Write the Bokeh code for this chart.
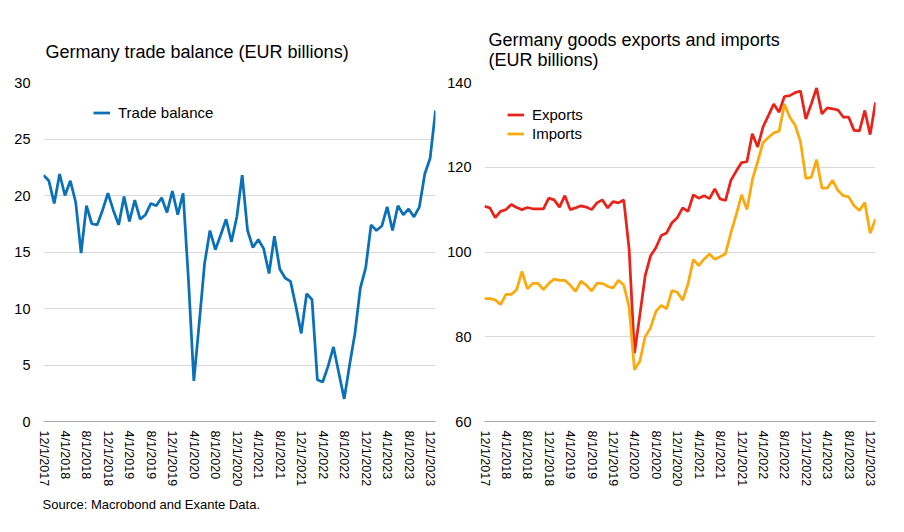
import math
from bokeh.plotting import figure
from bokeh.models import Range1d, FixedTicker, Title, Legend, LegendItem
from bokeh.layouts import row
from bokeh.embed import file_html
from bokeh.resources import INLINE

# ---------------- data ----------------
start_year, start_month = 2017, 12
n_months = 74  # 12/2017 .. 1/2024
months = []
for i in range(n_months):
    m = (start_month - 1 + i) % 12 + 1
    y = start_year + (start_month - 1 + i) // 12
    months.append(f"{m}/1/{y}")

trade_balance = [
    21.8, 21.3, 19.3, 21.9, 20.0, 21.3, 19.4, 14.9, 19.1, 17.5, 17.4, 18.7,
    20.2, 18.7, 17.4, 19.9, 17.7, 19.6, 17.9, 18.3, 19.3, 19.1, 19.8, 18.5,
    20.4, 18.3, 20.2, 12.5, 3.6, 8.7, 14.0, 16.9, 15.2, 16.5, 17.9, 15.9,
    18.1, 21.8, 16.9, 15.4, 16.1, 15.3, 13.1, 16.4, 13.5, 12.7, 12.4, 10.2,
    7.8, 11.3, 10.8, 3.7, 3.5, 4.9, 6.6, 4.3, 2.0, 5.0, 7.8, 11.8,
    13.6, 17.4, 16.9, 17.3, 19.0, 16.9, 19.1, 18.3, 18.8, 18.1, 19.0, 21.9,
    23.3, 27.5,
]

exports = [
    110.8, 110.4, 108.1, 109.6, 110.0, 111.2, 110.5, 110.0, 110.5, 110.2, 110.2, 110.2,
    112.7, 112.3, 110.6, 113.3, 110.0, 110.4, 110.9, 110.6, 110.0, 111.6, 112.3, 110.4,
    111.9, 111.6, 112.3, 100.7, 76.1, 85.1, 94.4, 99.1, 101.0, 103.9, 104.5, 106.9,
    108.1, 110.4, 109.6, 113.5, 112.7, 113.3, 112.6, 114.9, 112.5, 112.2, 116.9, 119.1,
    121.1, 121.3, 127.9, 124.8, 129.5, 132.2, 134.9, 133.0, 136.7, 136.9, 137.6, 138.0,
    131.4, 134.9, 138.7, 132.6, 134.0, 133.8, 133.5, 131.8, 131.8, 128.7, 128.6, 133.4,
    127.7, 135.3,
]

imports = [
    89.0, 89.0, 88.7, 87.6, 90.0, 90.0, 91.1, 95.4, 91.3, 92.6, 92.6, 91.1,
    92.6, 93.6, 93.3, 93.3, 92.2, 90.7, 93.1, 92.2, 90.8, 92.6, 92.6, 91.9,
    91.5, 93.3, 92.2, 87.0, 72.2, 74.2, 80.0, 82.1, 86.0, 87.4, 86.6, 90.9,
    90.5, 88.6, 92.5, 98.2, 96.8, 98.3, 99.5, 98.3, 98.9, 99.6, 104.5, 108.8,
    113.5, 110.0, 117.0, 121.3, 125.8, 127.0, 128.1, 128.5, 134.9, 131.8, 129.9, 126.0,
    117.4, 117.6, 121.8, 115.1, 115.1, 116.9, 114.5, 113.3, 113.0, 110.9, 109.8, 111.7,
    104.4, 107.8,
]

x_idx = list(range(n_months))
tick_positions = list(range(0, 73, 4))
tick_labels = [months[i] for i in tick_positions]

left_yticks = [0, 5, 10, 15, 20, 25, 30]
right_yticks = [60, 80, 100, 120, 140]

FONT = "Liberation Sans"
BLUE = "#0a70b8"
RED = "#e8231a"
ORANGE = "#fba90c"


def style(p, yticks):
    p.outline_line_color = None
    p.background_fill_color = "white"
    p.border_fill_color = "white"
    p.xgrid.grid_line_color = None
    p.ygrid.grid_line_color = "#d9d9d9"
    p.ygrid.grid_line_width = 1
    p.yaxis.ticker = FixedTicker(ticks=yticks)
    p.xaxis.ticker = FixedTicker(ticks=tick_positions)
    p.xaxis.major_label_overrides = {pos: lab for pos, lab in zip(tick_positions, tick_labels)}
    p.xaxis.major_label_orientation = -math.pi / 2
    for ax in (p.xaxis, p.yaxis):
        ax.major_tick_line_color = None
        ax.minor_tick_line_color = None
        ax.major_tick_out = 0
        ax.major_tick_in = 0
        ax.minor_tick_out = 0
        ax.minor_tick_in = 0
        ax.major_label_text_font = FONT
        ax.major_label_text_color = "black"
    p.yaxis.axis_line_color = None
    p.yaxis.major_label_text_font_size = "14.5px"
    p.yaxis.major_label_standoff = 13
    p.xaxis.axis_line_color = "#a6a6a6"
    p.xaxis.axis_line_width = 1
    p.xaxis.major_label_text_font_size = "12.5px"
    p.xaxis.major_label_standoff = 9
    p.title.text_font = FONT
    p.title.text_font_size = "18px"
    p.title.text_font_style = "normal"
    p.title.text_color = "black"
    p.title.align = "left"


def make_legend(items, loc):
    lg = Legend(items=items, location=loc)
    lg.padding = 0
    lg.margin = 0
    lg.border_line_color = None
    lg.background_fill_alpha = 0
    lg.glyph_width = 17
    lg.glyph_height = 17
    lg.label_height = 17
    lg.label_standoff = 8
    lg.spacing = 2
    lg.label_text_font = FONT
    lg.label_text_font_size = "15px"
    lg.label_text_color = "black"
    return lg


# ---------------- left chart ----------------
p1 = figure(width=444, height=532, output_backend="svg", toolbar_location=None,
            x_range=Range1d(0, 73), y_range=Range1d(0, 30),
            min_border_left=43, min_border_right=9, min_border_top=82, min_border_bottom=110,
            title="Germany trade balance (EUR billions)")
style(p1, left_yticks)
p1.title.offset = 2
p1.title.standoff = 41
r1 = p1.line(x_idx, trade_balance, line_color=BLUE, line_width=2.75)
p1.add_layout(make_legend([LegendItem(label="Trade balance", renderers=[r1])], (50, 300)))
src = Title(text="Source: Macrobond and Exante Data.", align="left", text_font=FONT,
            text_font_size="13px", text_font_style="normal", text_color="black",
            offset=-1, standoff=10)
p1.add_layout(src, "below")

# ---------------- right chart ----------------
p2 = figure(width=460, height=532, output_backend="svg", toolbar_location=None,
            x_range=Range1d(0, 73), y_range=Range1d(60, 140),
            min_border_left=39, min_border_right=29, min_border_top=78, min_border_bottom=111,
            title="Germany goods exports and imports\n(EUR billions)")
style(p2, right_yticks)
p2.title.offset = 4
p2.title.standoff = 25
r_exp = p2.line(x_idx, exports, line_color=RED, line_width=2.75)
r_imp = p2.line(x_idx, imports, line_color=ORANGE, line_width=2.75)
p2.add_layout(make_legend([LegendItem(label="Exports", renderers=[r_exp]),
                           LegendItem(label="Imports", renderers=[r_imp])], (23, 279)))

layout = row(p1, p2)
open("out.html", "w").write(file_html(layout, INLINE))
